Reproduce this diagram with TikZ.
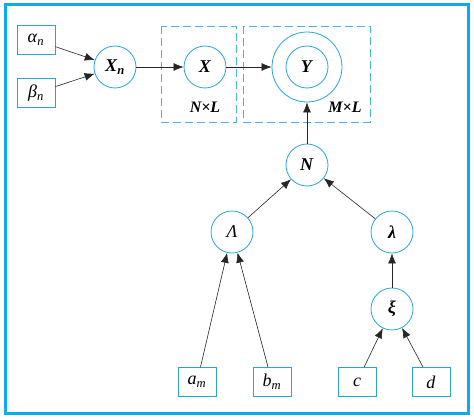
\documentclass[tikz,border=0pt]{standalone}
\usepackage{fontspec}
\setmainfont{Liberation Serif}
\usetikzlibrary{arrows.meta}
\definecolor{framecyan}{RGB}{10,172,235}
\definecolor{nodecyan}{RGB}{40,165,215}
\definecolor{platecyan}{RGB}{70,180,225}
\begin{document}
\begin{tikzpicture}[x=1pt, y=-1pt,
        >={Latex[length=10pt, width=8pt]},
        latent/.style={circle, draw=nodecyan, line width=0.8pt, fill=white, minimum size=42pt, inner sep=0pt, font=\fontsize{18}{18}\selectfont},
        hyper/.style={rectangle, draw=nodecyan, line width=0.8pt, fill=white, minimum width=38pt, minimum height=29pt, inner sep=0pt, font=\fontsize{18}{18}\selectfont},
        plate/.style={draw=platecyan, line width=0.8pt, dash pattern=on 8pt off 4pt},
        platelabel/.style={font=\fontsize{16}{16}\selectfont\bfseries\itshape},
        edge/.style={->, draw=black!85, line width=0.6pt}]

        \useasboundingbox (0, 0) rectangle (474, 420);
        \draw[framecyan, line width=3pt] (5, 5) rectangle (468, 413);

        % plates
        \draw[plate] (161, 26) rectangle (236, 122);
        \draw[plate] (243, 26) rectangle (370, 122);
        \node[platelabel] (nl) at (205, 107) {N×L};
        \node[platelabel] (ml) at (345, 107) {M×L};

        \node[hyper] (alpha) at (36, 40) {\textit{α}\textsubscript{\textit{n}}};
        \node[hyper] (beta) at (36, 93) {\textit{β}\textsubscript{\textit{n}}};
        \node[latent] (Xn) at (115, 67) {\textbf{\textit{X}}\textsubscript{\textbf{\textit{n}}}};
        \node[latent] (X) at (205, 67) {\textbf{\textit{X}}};
        \node[latent, minimum size=70pt] (Y) at (307, 67) {};
        \node[latent] (Yin) at (307, 67) {\textbf{\textit{Y}}};
        \node[latent] (N) at (307, 165) {\textbf{\textit{N}}};
        \node[latent] (Lam) at (232, 232) {\textit{Λ}};
        \node[latent] (lam) at (392, 232) {\textbf{\textit{λ}}};
        \node[latent] (xi) at (392, 309) {\textbf{\textit{ξ}}};
        \node[hyper] (am) at (197, 382) {\textit{a}\textsubscript{\textit{m}}};
        \node[hyper] (bm) at (272, 382) {\textit{b}\textsubscript{\textit{m}}};
        \node[hyper] (c) at (357, 382) {\textit{c}};
        \node[hyper] (d) at (431, 382) {\textit{d}};

        \draw[edge] (alpha) -- (Xn);
        \draw[edge] (beta) -- (Xn);
        \draw[edge] (Xn) -- (X);
        \draw[edge] (X) -- (Y);
        \draw[edge] (N) -- (Y);
        \draw[edge] (Lam) -- (N);
        \draw[edge] (lam) -- (N);
        \draw[edge] (xi) -- (lam);
        \draw[edge] (c) -- (xi);
        \draw[edge] (d) -- (xi);
        \draw[edge] (am) -- (Lam);
        \draw[edge] (bm) -- (Lam);
    \end{tikzpicture}
\end{document}
